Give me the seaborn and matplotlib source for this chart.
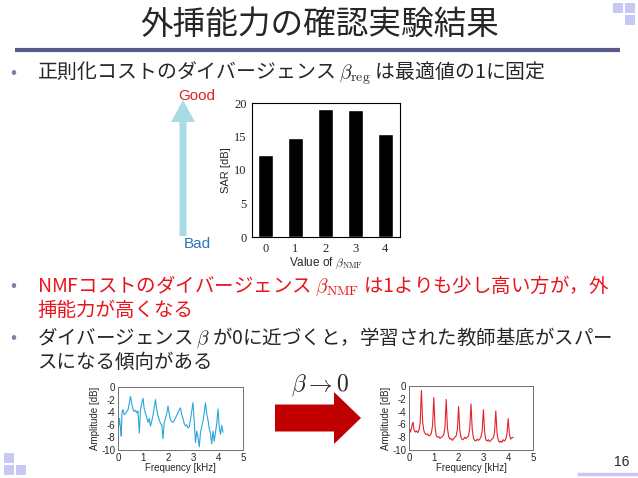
import matplotlib
matplotlib.use("Agg")
import matplotlib.pyplot as plt
from matplotlib.patches import FancyArrow, Rectangle
import seaborn as sns
import pandas as pd

# bar chart: SAR vs beta_NMF
beta_values = ["0", "1", "2", "3", "4"]
sar_values = [12.2, 14.8, 19.1, 19.0, 15.3]
sar_ticks = [0, 5, 10, 15, 20]

# spectra (frequency in kHz, amplitude in dB)
freq = [0, 0.03, 0.06, 0.1, 0.13, 0.16, 0.2, 0.25, 0.3, 0.35, 0.4, 0.45, 0.5,
        0.55, 0.6, 0.65, 0.7, 0.75, 0.8, 0.85, 0.9, 0.95, 1.0, 1.05, 1.1, 1.15,
        1.2, 1.25, 1.3, 1.35, 1.4, 1.45, 1.5, 1.55, 1.6, 1.65, 1.7, 1.75, 1.8,
        1.85, 1.9, 1.95, 2.0, 2.05, 2.1, 2.15, 2.2, 2.25, 2.3, 2.35, 2.4, 2.45,
        2.5, 2.55, 2.6, 2.65, 2.7, 2.75, 2.8, 2.85, 2.9, 2.95, 3.0, 3.05, 3.1,
        3.15, 3.2, 3.25, 3.3, 3.35, 3.4, 3.45, 3.5, 3.55, 3.6, 3.65, 3.7, 3.75,
        3.8, 3.85, 3.9, 3.95, 4.0, 4.05, 4.1, 4.15, 4.2]
amp_before = [-5.6, -6.2, -5.0, -6.5, -7.8, -4.0, -3.6, -4.4, -4.2, -3.9, -3.6,
              -2.6, -1.5, -2.6, -3.6, -3.9, -3.7, -4.1, -3.8, -7.3, -3.6, -2.6,
              -1.8, -3.5, -4.2, -4.8, -5.6, -5.0, -6.2, -5.4, -4.5, -3.2, -2.0,
              -3.6, -4.6, -5.2, -5.8, -6.0, -8.2, -5.6, -5.0, -4.2, -3.0, -4.3,
              -5.2, -5.5, -5.6, -5.3, -4.9, -4.5, -4.1, -3.6, -3.3, -4.4, -5.0,
              -5.8, -6.2, -6.0, -6.5, -6.3, -5.2, -3.8, -2.5, -5.6, -8.8, -7.0,
              -8.0, -9.5, -7.2, -6.3, -5.4, -4.0, -2.5, -4.3, -5.2, -6.6, -7.4,
              -9.0, -7.0, -8.6, -7.2, -5.8, -3.5, -6.4, -7.5, -6.1, -7.2]
amp_after = [-7.0, -6.8, -7.2, -6.6, -6.0, -5.7, -6.8, -7.2, -7.0, -7.3, -6.9,
             -5.8, -0.7, -5.6, -7.0, -7.4, -7.6, -7.5, -7.8, -7.7, -7.4, -6.2,
             -1.8, -6.4, -7.8, -8.0, -7.9, -8.2, -8.0, -7.9, -7.6, -6.5, -2.1,
             -6.6, -7.9, -8.3, -8.2, -8.5, -8.2, -8.0, -7.8, -6.8, -3.2, -7.0,
             -8.1, -8.4, -8.3, -8.0, -8.2, -8.0, -7.8, -6.6, -2.8, -6.8, -8.2,
             -8.5, -8.6, -8.3, -8.5, -8.3, -8.0, -7.0, -3.7, -7.2, -8.4, -8.6,
             -8.4, -8.7, -8.5, -8.3, -8.1, -7.2, -3.9, -7.4, -8.5, -8.8, -8.6,
             -8.8, -8.4, -8.6, -8.3, -7.5, -5.1, -7.6, -8.3, -8.1, -8.0]
freq_ticks = [0, 1, 2, 3, 4, 5]
amp_ticks = [0, -2, -4, -6, -8, -10]

sns.set_style("white")
plt.rcParams['font.family'] = ['Noto Sans CJK JP', 'DejaVu Sans']
plt.rcParams['mathtext.fontset'] = 'cm'
plt.rcParams['axes.unicode_minus'] = False

fig = plt.figure(figsize=(6.38, 4.78), dpi=100)

# slide decoration layer in pixel coordinates
ov = fig.add_axes([0, 0, 1, 1])
ov.set_xlim(0, 638)
ov.set_ylim(478, 0)
ov.axis('off')

lav = '#c8c8f4'
for x, y in [(613, 3), (625, 3), (625, 15), (4, 453), (4, 465), (16, 465)]:
    ov.add_patch(Rectangle((x, y), 10, 10, color=lav, lw=0))
ov.plot([15, 620], [50, 50], color='#5a5a8c', lw=3, solid_capstyle='butt')
ov.plot([577, 638], [474, 474], color=lav, lw=2.5, solid_capstyle='butt')

ov.text(320, 25, '外挿能力の確認実験結果', fontsize=23.5, ha='center', va='center')
ov.text(622, 462, '16', fontsize=10, ha='center', va='center', family=['Liberation Sans'])

bullet = '#7f7fa0'
fs = 14
for yb in [73, 286, 338]:
    ov.text(13, yb, '•', fontsize=13, color=bullet, ha='center', va='center')
ov.text(37, 73, '正則化コストのダイバージェンス $\\beta_{\\rm reg}$ は最適値の1に固定',
        fontsize=14.3, va='center')
red = '#e8141c'
ov.text(37, 286, 'NMFコストのダイバージェンス $\\beta_{\\rm NMF}$ は1よりも少し高い方が，外',
        fontsize=fs, va='center', color=red)
ov.text(37, 310, '挿能力が高くなる', fontsize=fs, va='center', color=red)
ov.text(37, 338, 'ダイバージェンス $\\beta$ が0に近づくと，学習された教師基底がスパー',
        fontsize=fs, va='center')
ov.text(37, 362, 'スになる傾向がある', fontsize=fs, va='center')

# good / bad arrow
ov.add_patch(FancyArrow(183, 236, 0, -136, width=7, head_width=24, head_length=22,
                        length_includes_head=True, color='#a9dbe2', lw=0))
ov.text(197, 96, 'Good', fontsize=11, color='#e02020', ha='center', va='center',
        family=['Liberation Sans'])
ov.text(197, 244, 'Bad', fontsize=11, color='#2e75b6', ha='center', va='center',
        family=['Liberation Sans'])

# beta -> 0 arrow
ov.add_patch(FancyArrow(275, 418, 86, 0, width=27, head_width=52, head_length=27,
                        length_includes_head=True, color='#c00000', lw=0))
ov.text(320, 385, '$\\beta \\rightarrow 0$', fontsize=17, ha='center', va='center')

# bar chart
ax = fig.add_axes([252 / 638, 1 - 237 / 478, 148 / 638, 134 / 478])
df = pd.DataFrame({'beta': beta_values, 'sar': sar_values})
sns.barplot(data=df, x='beta', y='sar', color='black', saturation=1, width=0.5, ax=ax)
ax.set_xlim(-0.45, 4.5)
ax.set_ylim(0, 20)
ax.set_yticks(sar_ticks)
ax.tick_params(direction='in', length=3, labelsize=9, pad=4)
for lab in ax.get_xticklabels() + ax.get_yticklabels():
    lab.set_family(['Liberation Serif'])
ax.set_ylabel('SAR [dB]', fontsize=8, family=['Liberation Sans'], labelpad=2)
ax.set_xlabel('Value of $\\beta_{\\rm NMF}$', fontsize=8.5, family=['Liberation Sans'],
              labelpad=1)
for s in ax.spines.values():
    s.set_color('black')
    s.set_linewidth(0.8)


def spectrum(rect, y, color):
    a = fig.add_axes(rect)
    sns.lineplot(x=freq, y=y, color=color, lw=0.8, ax=a)
    a.set_xlim(0, 5)
    a.set_ylim(-10, 0)
    a.set_xticks(freq_ticks)
    a.set_yticks(amp_ticks)
    a.tick_params(direction='in', length=2, labelsize=7, pad=2)
    for lab in a.get_xticklabels() + a.get_yticklabels():
        lab.set_family(['Liberation Sans'])
    a.set_xlabel('Frequency [kHz]', fontsize=7, family=['Liberation Sans'], labelpad=0)
    a.set_ylabel('Amplitude [dB]', fontsize=7, family=['Liberation Sans'], labelpad=1)
    for s in a.spines.values():
        s.set_color('#707070')
        s.set_linewidth(0.7)
    return a


spectrum([118 / 638, 1 - 450 / 478, 125 / 638, 63 / 478], amp_before, '#2aa6dd')
spectrum([409 / 638, 1 - 450 / 478, 124 / 638, 64 / 478], amp_after, '#e0242c')

fig.savefig('out.png', dpi=100)
